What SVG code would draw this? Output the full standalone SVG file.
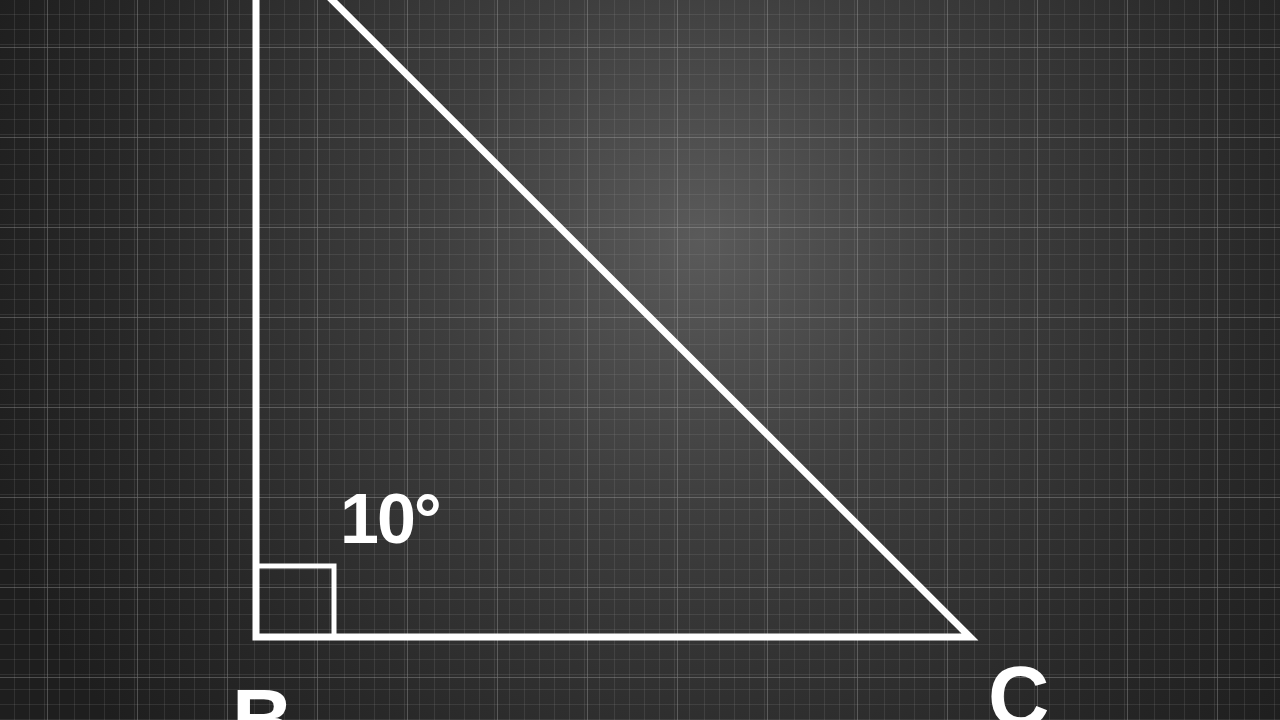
<svg xmlns="http://www.w3.org/2000/svg" width="1280" height="720" viewBox="0 0 1280 720">
  <defs>
    <radialGradient id="bg" cx="700" cy="240" r="760" gradientUnits="userSpaceOnUse">
      <stop offset="0" stop-color="#5a5a5a"/>
      <stop offset="0.35" stop-color="#3e3e3e"/>
      <stop offset="0.75" stop-color="#282828"/>
      <stop offset="1" stop-color="#1e1e1e"/>
    </radialGradient>
    <pattern id="minor" width="15" height="15" patternUnits="userSpaceOnUse">
      <path d="M15 0V15M0 15H15" fill="none" stroke="#a0a0a0" stroke-opacity="0.3" stroke-width="1"/>
    </pattern>
    <pattern id="major" width="90" height="90" patternUnits="userSpaceOnUse" x="-42" y="-42">
      <path d="M90 0V90M0 90H90" fill="none" stroke="#c0c0c0" stroke-opacity="0.4" stroke-width="1.5"/>
    </pattern>
  </defs>
  <style>
    .edge { fill: none; stroke: #ffffff; stroke-width: 7; stroke-linejoin: miter; }
    .mark { fill: none; stroke: #ffffff; stroke-width: 5; }
    .lbl { fill: #ffffff; font-family: "Liberation Sans", Arial, sans-serif; font-weight: bold; }
  </style>
  <rect width="1280" height="720" fill="url(#bg)"/>
  <rect width="1280" height="720" fill="url(#minor)"/>
  <rect width="1280" height="720" fill="url(#major)"/>
  <g id="connectors">
    <polygon id="triangle" class="edge" points="256,-76 256,637 970,637"/>
  </g>
  <g id="right-angle">
    <polyline class="mark" points="256,566 334,566 334,637"/>
  </g>
  <g id="angle-label">
    <text class="lbl" x="340" y="543" font-size="70" letter-spacing="-2">10°</text>
  </g>
  <g id="vertex-B">
    <text class="lbl" x="232" y="749" font-size="85">B</text>
  </g>
  <g id="vertex-C">
    <text class="lbl" x="988" y="726" font-size="85">C</text>
  </g>
</svg>
